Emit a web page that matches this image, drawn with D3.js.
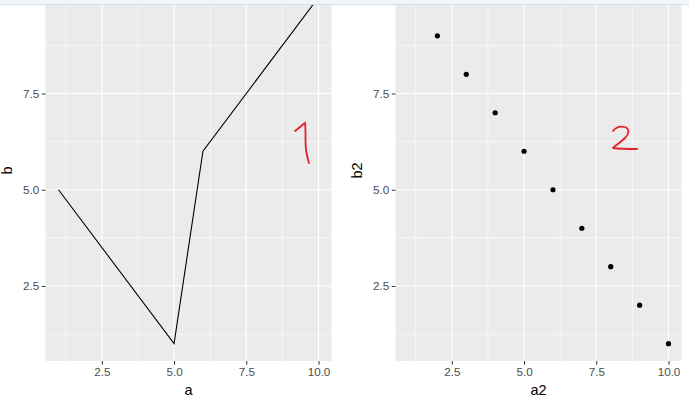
<!DOCTYPE html>
<html><head><meta charset="utf-8">
<script src="https://cdn.jsdelivr.net/npm/d3@7"></script>
<style>html,body{margin:0;padding:0;background:#fff;overflow:hidden}svg{display:block}</style>
</head><body>
<svg id="chart" width="689" height="415"></svg>
<script>
// Panel 1 data (line)
const a = [1, 5, 6, 10];
const b = [5, 1, 6, 10];
// Panel 2 data (points)
const a2 = [1, 2, 3, 4, 5, 6, 7, 8, 9, 10];
const b2 = [10, 9, 8, 7, 6, 5, 4, 3, 2, 1];
const tickValues = [2.5, 5.0, 7.5, 10.0];
const tickLabels = ["2.5", "5.0", "7.5", "10.0"];
const minorValues = [1.25, 3.75, 6.25, 8.75];

const svg = d3.select("#chart");
const font = "'Liberation Sans', Arial, sans-serif";

function expand(ext) { const d = (ext[1] - ext[0]) * 0.05; return [ext[0] - d, ext[1] + d]; }

const yTop = -20, yBot = 361, visTop = 5;
const panels = [
  { xs: a, ys: b, left: 45.5, right: 331.5, xt: "a", yt: "b", type: "line", id: 1 },
  { xs: a2, ys: b2, left: 395.5, right: 681.5, xt: "a2", yt: "b2", type: "point", id: 2 }
];

panels.forEach(p => {
  const x = d3.scaleLinear().domain(expand(d3.extent(p.xs))).range([p.left, p.right]);
  const y = d3.scaleLinear().domain(expand(d3.extent(p.ys))).range([yBot, yTop]);
  const g = svg.append("g");
  g.append("clipPath").attr("id", "clip" + p.id).append("rect")
    .attr("x", p.left).attr("y", yTop).attr("width", p.right - p.left).attr("height", yBot - yTop);
  g.append("rect").attr("x", p.left).attr("y", yTop).attr("width", p.right - p.left)
    .attr("height", yBot - yTop).attr("fill", "#EBEBEB");
  // minor grid
  g.selectAll(".mx").data(minorValues).join("line")
    .attr("x1", d => x(d)).attr("x2", d => x(d)).attr("y1", yTop).attr("y2", yBot)
    .attr("stroke", "#fff").attr("stroke-width", 0.6);
  g.selectAll(".my").data(minorValues).join("line")
    .attr("y1", d => y(d)).attr("y2", d => y(d)).attr("x1", p.left).attr("x2", p.right)
    .attr("stroke", "#fff").attr("stroke-width", 0.6);
  // major grid
  g.selectAll(".Mx").data(tickValues).join("line")
    .attr("x1", d => x(d)).attr("x2", d => x(d)).attr("y1", yTop).attr("y2", yBot)
    .attr("stroke", "#fff").attr("stroke-width", 1.1);
  g.selectAll(".My").data(tickValues).join("line")
    .attr("y1", d => y(d)).attr("y2", d => y(d)).attr("x1", p.left).attr("x2", p.right)
    .attr("stroke", "#fff").attr("stroke-width", 1.1);

  const data = p.xs.map((v, i) => [v, p.ys[i]]);
  const mg = g.append("g").attr("clip-path", `url(#clip${p.id})`);
  if (p.type === "line") {
    mg.append("path").datum(data)
      .attr("d", d3.line().x(d => x(d[0])).y(d => y(d[1])))
      .attr("fill", "none").attr("stroke", "#000").attr("stroke-width", 1.1);
  } else {
    mg.selectAll("circle").data(data).join("circle")
      .attr("cx", d => x(d[0])).attr("cy", d => y(d[1])).attr("r", 2.6).attr("fill", "#000");
  }

  // axes (y ticks beyond the cropped top of the window are not shown)
  const fmt = d => tickLabels[tickValues.indexOf(d)];
  const yVisible = tickValues.filter(v => y(v) > visTop + 6);
  const xAxis = g.append("g").attr("transform", `translate(0,${yBot})`)
    .call(d3.axisBottom(x).tickValues(tickValues).tickFormat(fmt).tickSizeInner(3.7).tickSizeOuter(0).tickPadding(2.5));
  const yAxis = g.append("g").attr("transform", `translate(${p.left},0)`)
    .call(d3.axisLeft(y).tickValues(yVisible).tickFormat(fmt).tickSizeInner(3.7).tickSizeOuter(0).tickPadding(2.5));
  [xAxis, yAxis].forEach(ax => {
    ax.select(".domain").remove();
    ax.selectAll(".tick line").attr("stroke", "#333").attr("stroke-width", 1);
    ax.selectAll(".tick text").attr("fill", "#4D4D4D").style("font-family", font).style("font-size", "11.7px");
  });

  g.append("text").attr("x", (p.left + p.right) / 2).attr("y", 395)
    .attr("text-anchor", "middle").style("font-family", font).style("font-size", "14.5px")
    .attr("fill", "#000").text(p.xt);
  g.append("text").attr("transform", `translate(${p.left - 34},${(yTop + yBot) / 2}) rotate(-90)`)
    .attr("text-anchor", "middle").style("font-family", font).style("font-size", "14.5px")
    .attr("fill", "#000").text(p.yt);
});

// handwritten red annotations
const red = "#E5202A";
svg.append("path").attr("d", "M295,131 C299,128 302,125 305,123 C306,130 305,140 306,150 C307,156 308,160 309,163")
  .attr("fill", "none").attr("stroke", red).attr("stroke-width", 1.8).attr("stroke-linecap", "round");
svg.append("path").attr("d", "M613,131 C616,127 621,126 625,127 C630,129 629,134 625,138 C621,142 616,145 613,148 C620,149 630,149 637,149")
  .attr("fill", "none").attr("stroke", red).attr("stroke-width", 1.8).attr("stroke-linecap", "round").attr("stroke-linejoin", "round");

// top toolbar strip (cropped window chrome)
svg.append("rect").attr("x", 0).attr("y", 0).attr("width", 689).attr("height", 4.5).attr("fill", "#F3F6F8");
svg.append("line").attr("x1", 0).attr("x2", 689).attr("y1", 4.5).attr("y2", 4.5).attr("stroke", "#D9DEE2").attr("stroke-width", 1);
</script>
</body></html>
